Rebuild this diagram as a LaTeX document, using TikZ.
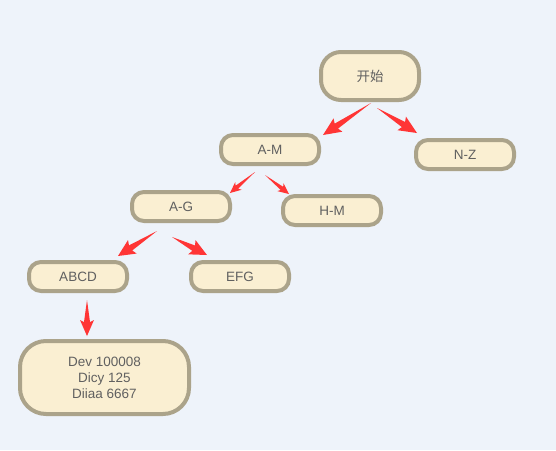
\documentclass[tikz,border=0pt]{standalone}
\usepackage{fontspec}
\setmainfont{Liberation Sans}
\newfontfamily\cjkfont{Noto Sans CJK SC}
\usetikzlibrary{calc}
\definecolor{bgblue}{HTML}{EEF3FA}
\definecolor{boxfill}{HTML}{FAEFD2}
\definecolor{boxline}{HTML}{ABA38A}
\definecolor{arrowred}{HTML}{FF3535}
\definecolor{textgray}{HTML}{606060}
% tapered arrow: tail, tip, head length, head half width, body half width
\newcommand{\sketcharrow}[5]{%
  \path (#1) coordinate (ta) (#2) coordinate (tb);
  \path ($(tb)!#3!(ta)$) coordinate (hb) ($(tb)!#3+2pt!(ta)$) coordinate (hbb);
  \fill[arrowred] (ta) -- ($(hb)!#5!90:(tb)$) -- ($(hbb)!#4!90:(tb)$) -- (tb)
    -- ($(hbb)!#4!-90:(tb)$) -- ($(hb)!#5!-90:(tb)$) -- cycle;
}

\begin{document}
\begin{tikzpicture}[x=1pt, y=-1pt,
	 treenode/.style={draw=boxline, fill=boxfill, line width=4pt, rounded corners=12pt,
	   minimum width=98pt, minimum height=29pt, inner sep=0pt, align=center,
	   text=textgray, font=\fontsize{13.5}{16}\selectfont}]
	\fill[bgblue] (0,0) rectangle (556,450);
	\useasboundingbox (0,0) rectangle (556,450);
	\node at (370,76) [treenode, minimum height=48pt, rounded corners=20pt] (start) {\cjkfont 开始};
	\node at (270,149.5) [treenode] (am) {A{-}M};
	\node at (465,154.5) [treenode] (nz) {N{-}Z};
	\node at (181,206.5) [treenode] (ag) {A{-}G};
	\node at (332,210.5) [treenode] (hm) {H{-}M};
	\node at (78,276.5) [treenode] (abcd) {ABCD};
	\node at (240,276.5) [treenode] (efg) {EFG};
	\node at (104.5,377.5) [treenode, minimum width=169pt, minimum height=73pt, rounded corners=26pt] (info)
	  {Dev 100008\\Dicy 125\\Diiaa 6667};
	\sketcharrow{$(start.south)+(1,1)$}{$(am.north east)+(2,2)$}{16pt}{8pt}{3pt}
	\sketcharrow{$(start.south)+(7,6)$}{$(nz.north west)+(3,-5)$}{16pt}{8pt}{3pt}
	\sketcharrow{$(am.south)+(-15,6)$}{$(ag.north east)+(-2,3)$}{9pt}{5pt}{2pt}
	\sketcharrow{$(am.south)+(-5,9)$}{$(hm.north west)+(8,0)$}{9pt}{5pt}{2pt}
	\sketcharrow{$(ag.south)+(-24,8)$}{$(abcd.north east)+(-11,-4)$}{15pt}{8pt}{3pt}
	\sketcharrow{$(ag.south)+(-9,14)$}{$(efg.north west)+(18,-5)$}{15pt}{8pt}{3pt}
	\sketcharrow{$(abcd.south)+(9,7)$}{$(info.north)+(-17.5,-3)$}{14pt}{7pt}{3pt}
\end{tikzpicture}
\end{document}
